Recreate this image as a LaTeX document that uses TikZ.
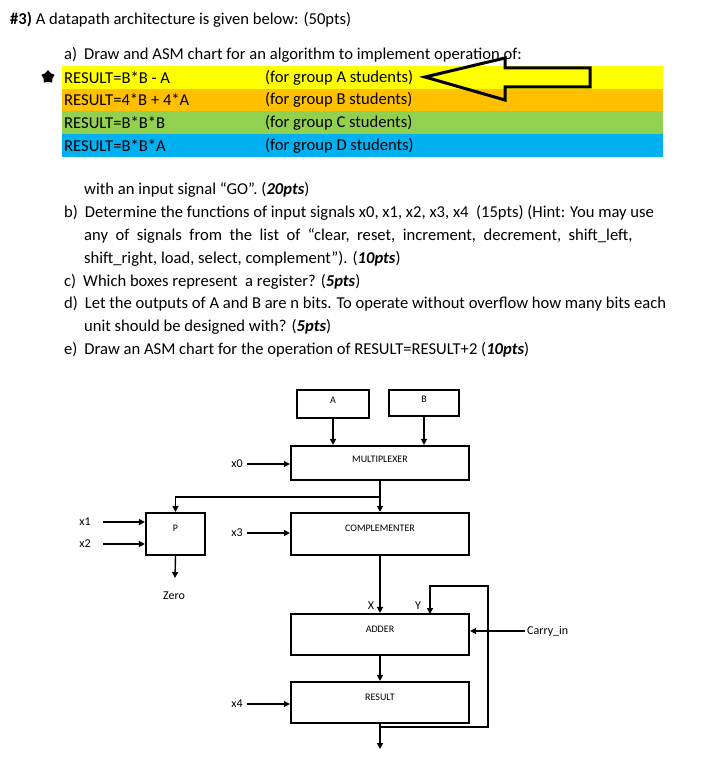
\documentclass[tikz,border=0pt]{standalone}
\usepackage{fontspec}
\setmainfont{Carlito}
\usetikzlibrary{arrows.meta,shapes.geometric}
\definecolor{cA}{HTML}{FFFF00}
\definecolor{cB}{HTML}{FFC000}
\definecolor{cC}{HTML}{92D050}
\definecolor{cD}{HTML}{00B0F0}
\begin{document}
\begin{tikzpicture}[x=1pt,y=-1pt,
  txt/.style={anchor=west,inner sep=0pt,font=\fontsize{16.6}{18}\selectfont},
  blk/.style={draw,line width=2.2pt,inner sep=0pt,font=\fontsize{10}{11}\selectfont},
  lab/.style={inner sep=0pt,font=\fontsize{12}{13}\selectfont},
  ar/.style={-{Triangle[length=6pt,width=6pt]},line width=1.4pt}]
\useasboundingbox (0,0) rectangle (704,773);
\fill[white] (0,0) rectangle (704,773);
% text
\node[txt] (t0) at (10,20) {\textbf{\#3)} A datapath architecture is given below: (50pts)};
\node[txt] (ta) at (64,55) {a)\hspace{7pt}Draw and ASM chart for an algorithm to implement operation of:};
\fill[cA] (62,66) rectangle (663,89);
\fill[cB] (62,89) rectangle (663,111);
\fill[cC] (62,111) rectangle (663,134);
\fill[cD] (62,134) rectangle (663,157);
\node[txt] (r1) at (64,77.5) {RESULT=B*B - A};
\node[txt] (g1) at (265,77.5) {(for group A students)};
\node[txt] (r2) at (64,100) {RESULT=4*B + 4*A};
\node[txt] (g2) at (265,100) {(for group B students)};
\node[txt] (r3) at (64,122.5) {RESULT=B*B*B};
\node[txt] (g3) at (265,122.5) {(for group C students)};
\node[txt] (r4) at (64,145.5) {RESULT=B*B*A};
\node[txt] (g4) at (265,145.5) {(for group D students)};
\draw[line width=3pt,line join=miter] (425,77) -- (505,58) -- (505,68) -- (590,68) -- (590,87) -- (505,87) -- (505,100) -- cycle;
\node[star,star points=5,fill=black,minimum size=14pt,inner sep=0pt] (st) at (48,77) {};
\node[txt] (w) at (84,190) {with an input signal “GO”. (\textbf{\textit{20pts}})};
\node[txt] (tb) at (64,213) {b)\hspace{7pt}Determine the functions of input signals x0, x1, x2, x3, x4 \ (15pts) (Hint: You may use};
\node[txt] (tb2) at (84,236) {any \ of \ signals \ from \ the \ list \ of \ “clear, \ reset, \ increment, \ decrement, \ shift\_left,};
\node[txt] (tb3) at (84,259) {shift\_right, load, select, complement”). (\textbf{\textit{10pts}})};
\node[txt] (tc) at (64,282) {c)\hspace{7pt}Which boxes represent \ a register? (\textbf{\textit{5pts}})};
\node[txt] (td) at (64,304) {d)\hspace{7pt}Let the outputs of A and B are n bits. To operate without overflow how many bits each};
\node[txt] (td2) at (84,327) {unit should be designed with? (\textbf{\textit{5pts}})};
\node[txt] (te) at (64,350) {e)\hspace{7pt}Draw an ASM chart for the operation of RESULT=RESULT+2 (\textbf{\textit{10pts}})};
% diagram
\node[blk,minimum width=72pt,minimum height=28pt] (A) at (333,404) {\raisebox{8pt}{A}};
\node[blk,minimum width=70pt,minimum height=26pt] (B) at (424,403) {\raisebox{8pt}{B}};
\node[blk,minimum width=178pt,minimum height=34pt] (M) at (380,463) {\raisebox{8pt}{MULTIPLEXER}};
\node[blk,minimum width=59pt,minimum height=42pt] (P) at (175.5,534) {\raisebox{12pt}{P}};
\node[blk,minimum width=178pt,minimum height=42pt] (C) at (380,534) {\raisebox{12pt}{COMPLEMENTER}};
\node[blk,minimum width=178pt,minimum height=41pt] (AD) at (380,634.5) {\raisebox{11pt}{ADDER}};
\node[blk,minimum width=178pt,minimum height=41pt] (R) at (380,702.5) {\raisebox{11pt}{RESULT}};
\node[lab] (x0) at (237,464) {x0};
\node[lab] (x1) at (85,522) {x1};
\node[lab] (x2) at (85,544) {x2};
\node[lab] (x3) at (237,533) {x3};
\node[lab] (x4) at (237,704) {x4};
\node[lab] (zero) at (174,596) {Zero};
\node[lab] (X) at (371,606) {X};
\node[lab] (Y) at (418,606) {Y};
\node[lab,anchor=west] (cin) at (527,631) {Carry\_in};
\coordinate (zt) at (175,578);
\coordinate (out) at (380,749);
\coordinate (yin) at (430,614);
\draw[ar] (x0.east)++(4,0) -- (x0.east -| M.west);
\draw[ar] (x3.east)++(4,0) -- (x3.east -| C.west);
\draw[ar] (x4.east)++(4,0) -- (x4.east -| R.west);
\draw[ar] (103,522) -- (P.west |- x1);
\draw[ar] (103,544) -- (P.west |- x2);
\draw[ar] (A.south) -- (A.south |- M.north);
\draw[ar] (B.south) -- (B.south |- M.north);
\draw[ar] (M.south) -- (C.north);
\draw[ar] (380,497) -| (P.north);
\draw[ar] (P.south) -- (zt);
\draw[ar] (C.south) -- (AD.north);
\draw[ar] (AD.south) -- (R.north);
\draw[ar] (R.south) -- (out);
\draw[ar] (380,727) -- (488,727) -- (488,586) -- (430,586) -- (yin);
\draw[ar] (cin.west)++(-2,0) -- (cin.west -| AD.east);
\end{tikzpicture}
\end{document}
